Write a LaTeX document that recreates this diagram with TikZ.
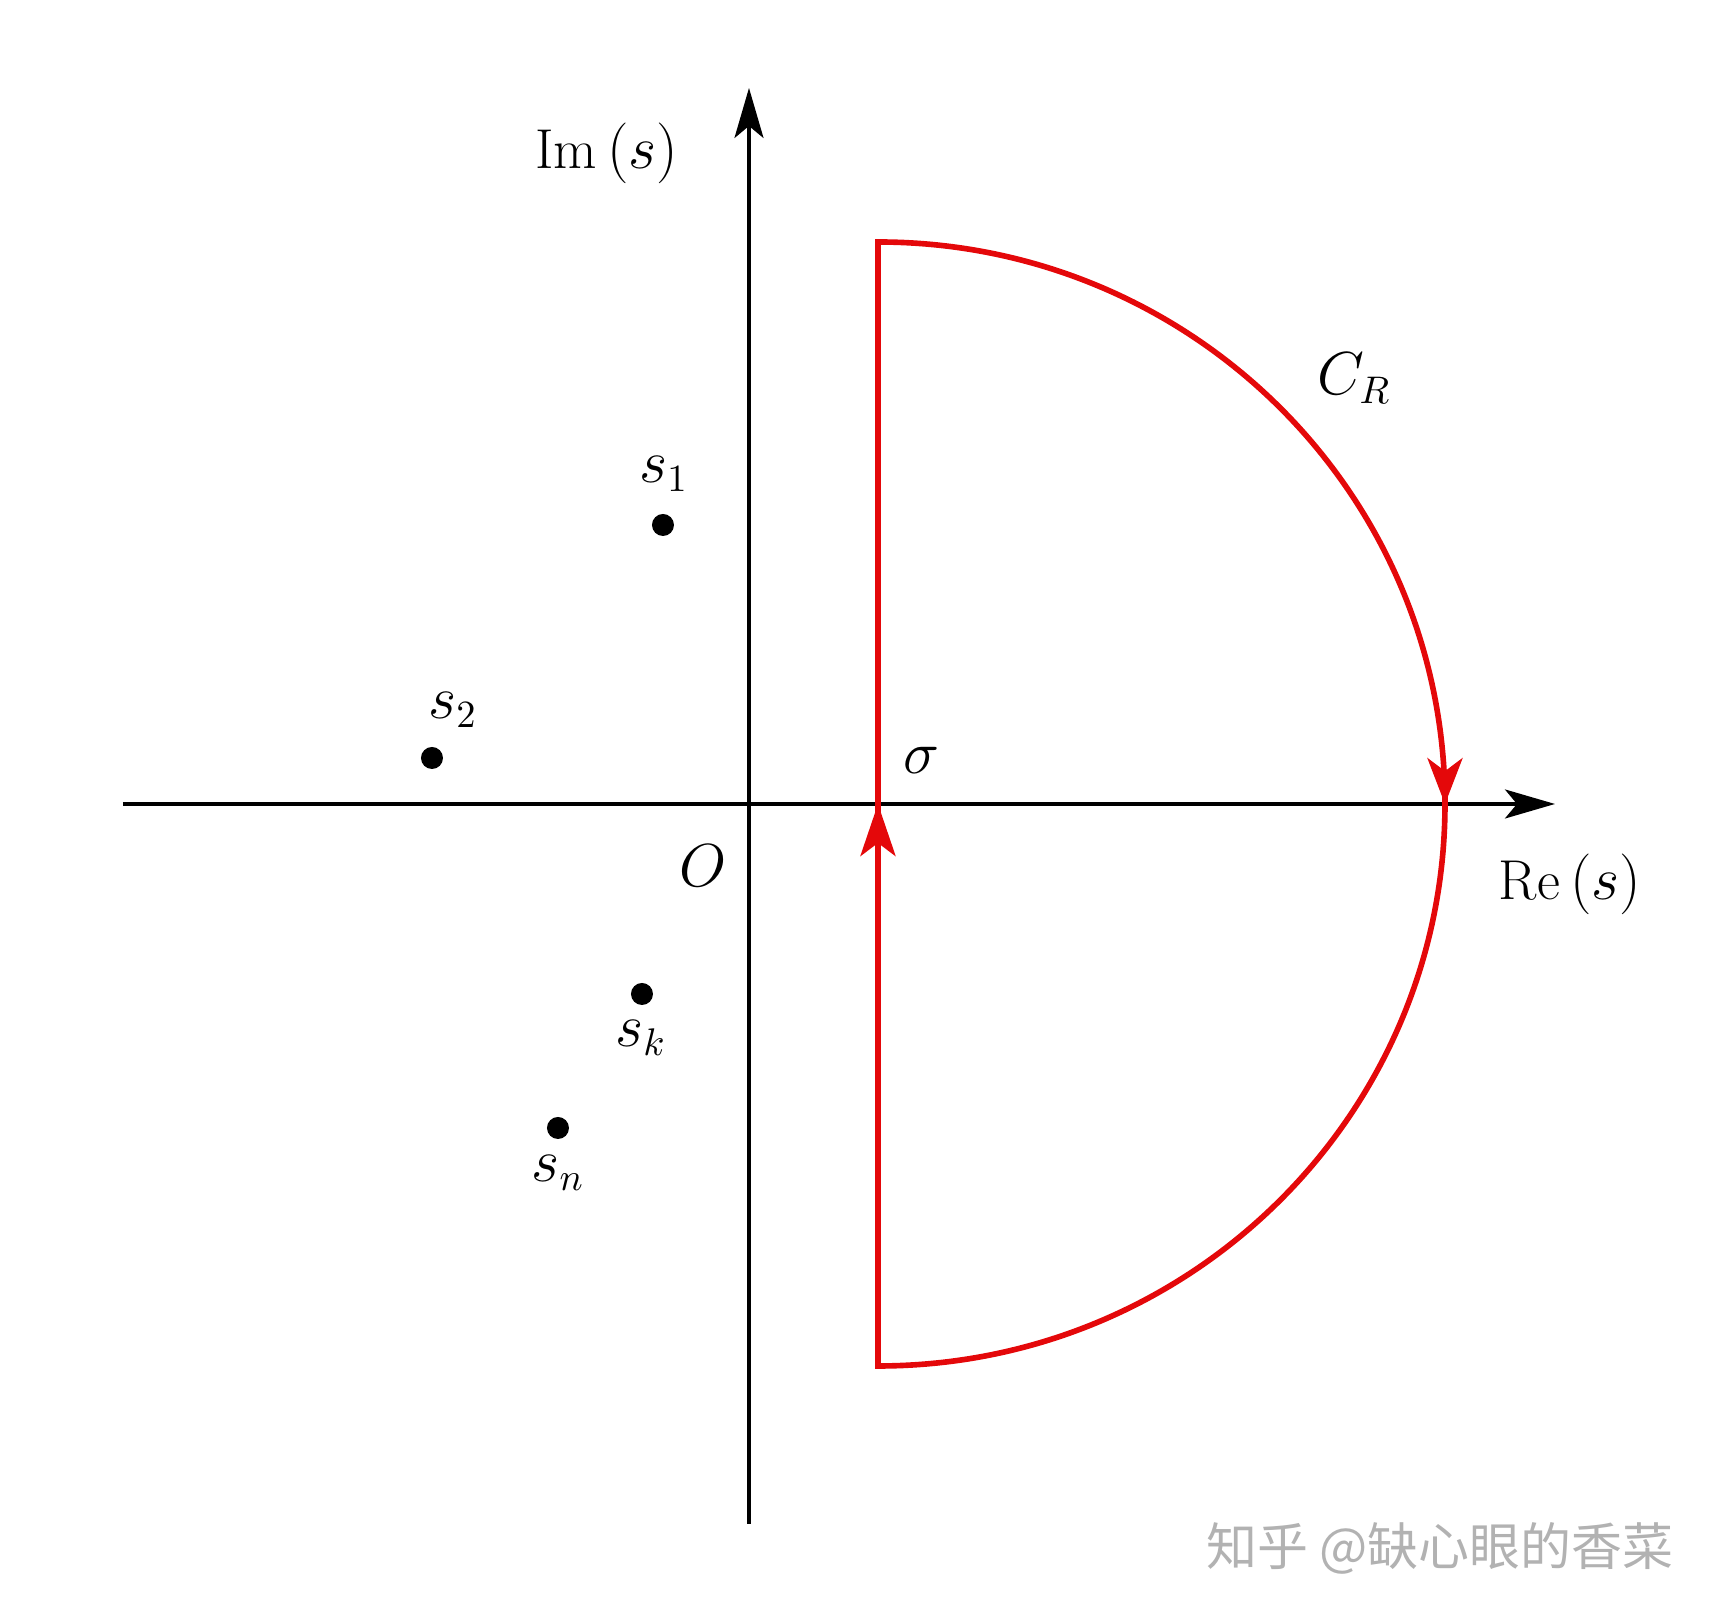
\documentclass[tikz,border=0pt]{standalone}
\usepackage{amsmath, amssymb}
\usepackage{fontspec}
\newfontfamily\cjk{Noto Sans CJK SC}
\usepackage{tikz}
\usetikzlibrary{arrows.meta,decorations.markings}
\definecolor{contourred}{RGB}{228,8,10}
\definecolor{markgray}{RGB}{178,178,178}

\begin{document}
\begin{tikzpicture}[
        font=\fontsize{16}{19}\selectfont,
        axis/.style={line width=0.9pt, -{Stealth[length=5mm, width=2.9mm, inset=1.2mm]}},
        contour/.style={contourred, line width=1.6pt, line join=miter,
            postaction={decorate, decoration={markings,
                mark=at position 5.62cm with {\arrow{Stealth[length=5.2mm, width=3.5mm, inset=1.3mm]}},
                mark=at position 20.11cm with {\arrow{Stealth[length=4.6mm, width=3.5mm, inset=1.3mm]}}}}},
        pole/.style={circle, fill=black, inner sep=0pt, minimum size=2.2mm}
    ]
    \useasboundingbox (-7.49,-8.13) rectangle (9.70,8.04);

    % axes
    \coordinate (xl) at (-6.26,0);
    \coordinate (xr) at (8.06,0);
    \coordinate (yb) at (0,-7.20);
    \coordinate (yt) at (0,7.16);
    \draw[axis] (xl) -- (xr);
    \draw[axis] (yb) -- (yt);
    \node (re) at (8.21,-0.80) {$\mathrm{Re}\,(s)$};
    \node (im) at (-1.42,6.51) {$\mathrm{Im}\,(s)$};
    \node (o) at (-0.46,-0.62) {$O$};

    % Bromwich contour
    \coordinate (bot) at (1.29,-5.62);
    \coordinate (top) at (1.29,5.62);
    \draw[contour] (bot) -- (top) arc[start angle=90, end angle=-90, x radius=5.67, y radius=5.62] -- cycle;
    \node (sigma) at (1.72,0.44) {$\sigma$};
    \node (cr) at (6.05,4.26) {$C_R$};

    % poles
    \node[pole] (s1) at (-0.86,2.79) {};
    \node[pole] (s2) at (-3.17,0.46) {};
    \node[pole] (sk) at (-1.07,-1.90) {};
    \node[pole] (sn) at (-1.91,-3.24) {};
    \node (l1) at (-0.85,3.30) {$s_1$};
    \node (l2) at (-2.96,0.94) {$s_2$};
    \node (lk) at (-1.08,-2.34) {$s_k$};
    \node (ln) at (-1.91,-3.69) {$s_n$};

    \node[markgray, font=\cjk\fontsize{14.5}{17}\selectfont] (wm) at (6.91,-7.44) {知乎 @缺心眼的香菜};
\end{tikzpicture}
\end{document}
